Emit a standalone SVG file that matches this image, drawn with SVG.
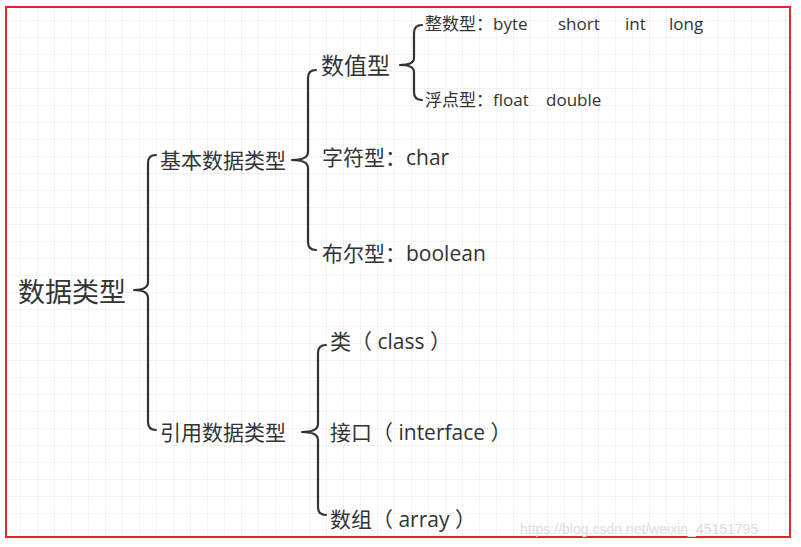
<svg xmlns="http://www.w3.org/2000/svg" width="801" height="547" viewBox="0 0 801 547">
<defs>
<pattern id="g" width="17" height="17" patternUnits="userSpaceOnUse" x="4" y="4"><path d="M17 0V17H0" fill="none" stroke="#e6e6e6" stroke-width="1"/></pattern>
<style>
.b{fill:none;stroke:#333;stroke-width:2.2;stroke-linecap:round;stroke-linejoin:round}
text{font-family:"Open Sans","Noto Sans CJK SC",sans-serif;fill:#333;white-space:pre}
.l{font-size:27px}.m{font-size:21px}.n{font-size:23px}.s{font-size:17px}
</style>
</defs>
<rect width="801" height="547" fill="#fff"/>
<rect x="6" y="7" width="784" height="530" fill="url(#g)"/>
<rect x="6" y="7" width="784" height="530" fill="none" stroke="#e8232c" stroke-width="2"/>
<g id="connectors">
<path class="b" d="M156 155 Q148 155 148 163 L148 282 Q148 290 134 290 Q148 290 148 298 L148 422 Q148 430 156 430"/>
<path class="b" d="M316 70 Q308 70 308 78 L308 152 Q308 160 292 160 Q308 160 308 168 L308 242 Q308 250 316 250"/>
<path class="b" d="M422 25 Q414 25 414 33 L414 58 Q414 65 400 65 Q414 65 414 72 L414 92 Q414 100 422 100"/>
<path class="b" d="M326 345 Q318 345 318 353 L318 424 Q318 432 302 432 Q318 432 318 440 L318 507 Q318 515 326 515"/>
</g>
<g id="root"><text class="l" x="18" y="302">数据类型</text></g>
<g id="basic"><text class="m" x="160" y="168">基本数据类型</text></g>
<g id="ref"><text class="m" x="160" y="440">引用数据类型</text></g>
<g id="numeric"><text class="n" x="321" y="74">数值型</text></g>
<g id="int"><text class="s" x="425" y="30">整数型：byte<tspan x="558">short</tspan><tspan x="625">int</tspan><tspan x="669">long</tspan></text></g>
<g id="float"><text class="s" x="425" y="106">浮点型：float<tspan x="546">double</tspan></text></g>
<g id="char"><text class="m" x="322" y="165">字符型：char</text></g>
<g id="bool"><text class="m" x="322" y="261">布尔型：boolean</text></g>
<g id="class"><text class="m" x="330" y="349" xml:space="preserve">类（ class ）</text></g>
<g id="iface"><text class="m" x="330" y="440" xml:space="preserve">接口（ interface ）</text></g>
<g id="array"><text class="m" x="330" y="527" xml:space="preserve">数组（ array ）</text></g>
<text x="520" y="534" style="font-size:14px;fill:#ddd;font-family:'Liberation Sans',sans-serif">https://blog.csdn.net/weixin_45151795</text>
</svg>
